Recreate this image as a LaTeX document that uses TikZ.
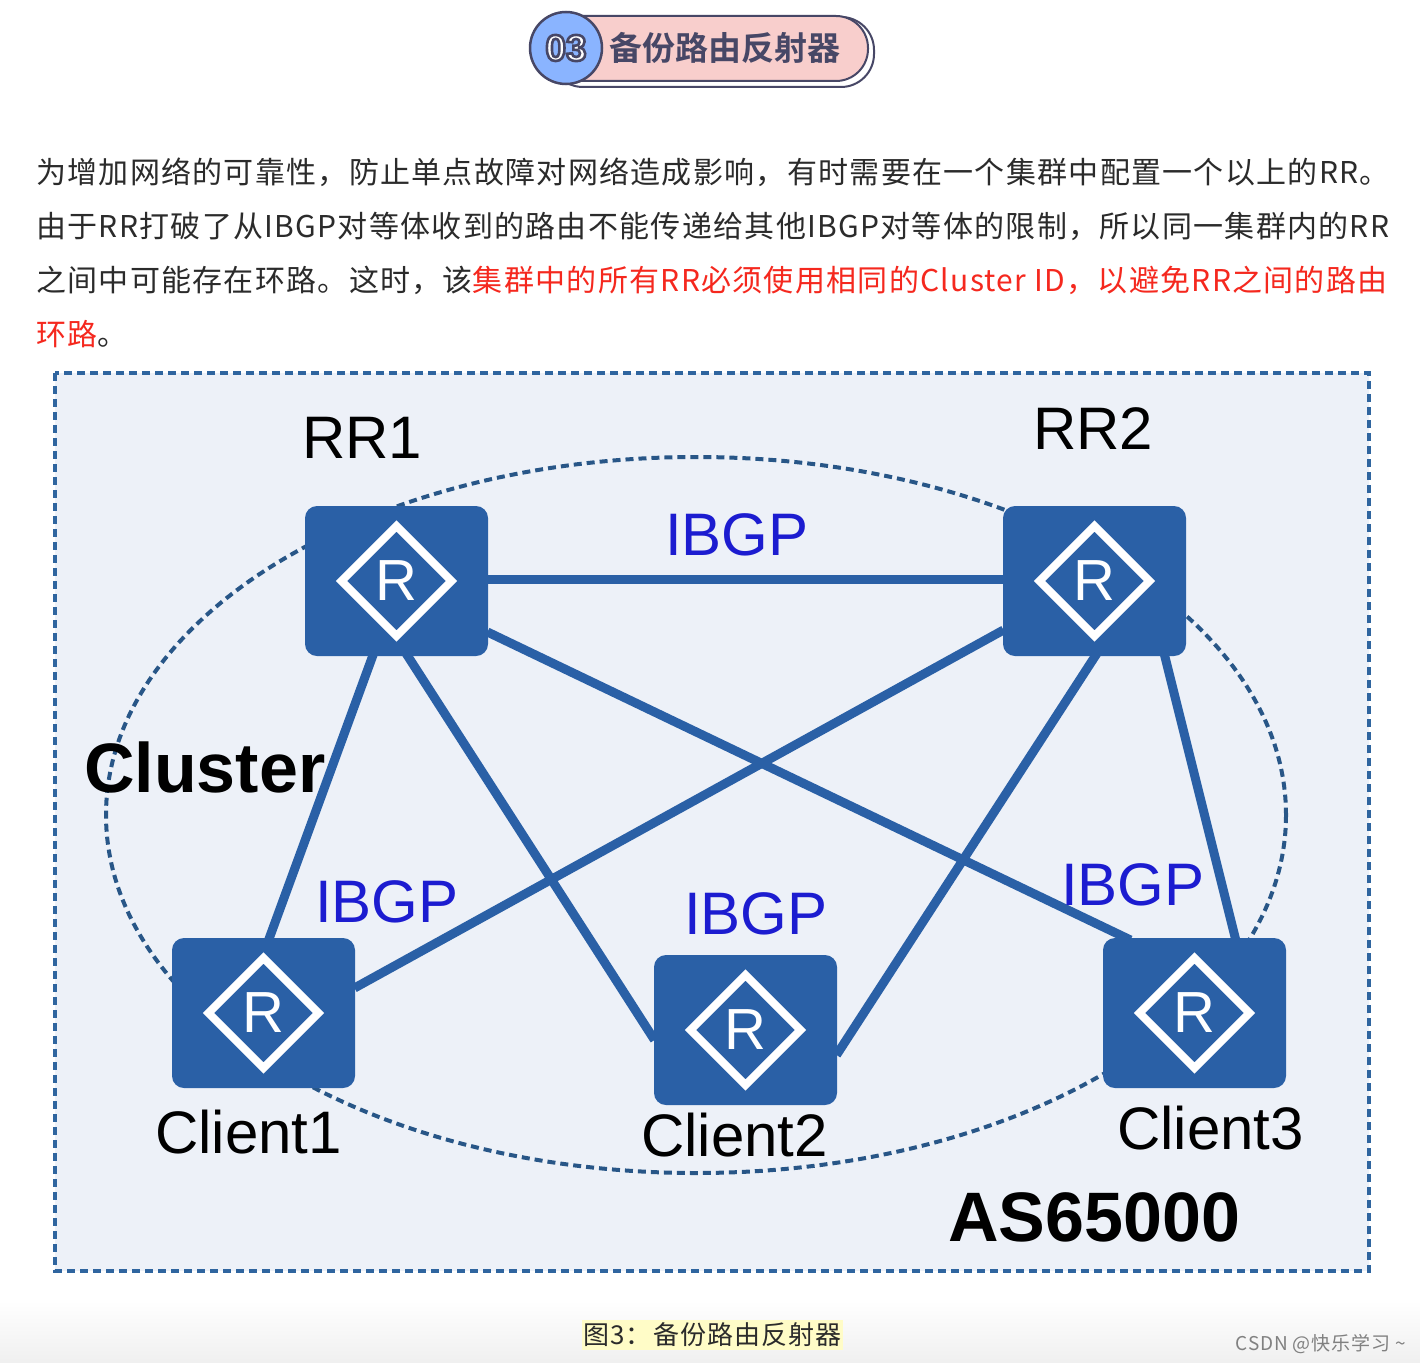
\documentclass[tikz,border=0pt]{standalone}
\usepackage{fontspec}
\setmainfont{Liberation Sans}
\newfontfamily\cjk[LetterSpace=4.3]{Noto Sans CJK SC}
\newfontfamily\cjkb[BoldFont={Noto Sans CJK SC Bold}]{Noto Sans CJK SC}
\usetikzlibrary{backgrounds}
\definecolor{panelfill}{HTML}{EDF1F8}
\definecolor{netblue}{HTML}{2A60A6}
\definecolor{dashblue}{HTML}{2F659F}
\definecolor{labelblue}{HTML}{1C1CD0}
\definecolor{inkdark}{HTML}{474766}
\definecolor{bodytext}{HTML}{2B2B2B}
\definecolor{redtext}{HTML}{F5281E}
\definecolor{badgepink}{HTML}{F8CECC}
\definecolor{badgeblue}{HTML}{8AB4FF}
\pgfdeclarelayer{bg}
\pgfsetlayers{bg,main}
\tikzset{
  x=1pt,y=-1pt,
  router/.style={rectangle,rounded corners=12pt,minimum width=183pt,minimum height=150pt,inner sep=0pt,
    fill=netblue,text=white,font=\fontsize{58}{58}\selectfont,
    path picture={\draw[white,line width=8pt,miter limit=10,sharp corners]
      ([shift={(-55,0)}]path picture bounding box.center)--
      ([shift={(0,-55)}]path picture bounding box.center)--
      ([shift={(55,0)}]path picture bounding box.center)--
      ([shift={(0,55)}]path picture bounding box.center)--cycle;}},
  link/.style={netblue,line width=9pt},
  bigtext/.style={font=\fontsize{60}{60}\selectfont,inner sep=0pt,anchor=base west},
  ibgp/.style={bigtext,text=labelblue},
  boldtext/.style={font=\fontsize{70}{70}\selectfont\bfseries,inner sep=0pt,anchor=base west},
  bodyline/.style={font=\cjk\fontsize{30}{30}\selectfont,text=bodytext,inner sep=0pt,anchor=base west},
}
\begin{document}
\begin{tikzpicture}
\useasboundingbox (0,0) rectangle (1420,1362);
\begin{pgfonlayer}{bg}
\fill[white] (0,0) rectangle (1420,1362);
\shade[top color=white,bottom color=black!6,shading angle=0] (0,1300) rectangle (1420,1362);
\draw[dashblue,fill=panelfill,line width=4pt,dash pattern=on 8pt off 5pt] (55,373) rectangle (1369,1271);
\draw[dashblue!85!black,line width=4pt,dash pattern=on 8pt off 5pt] (696,815) ellipse [x radius=590,y radius=358];
\draw[inkdark,fill=white,line width=2pt,rounded corners=33pt] (550,17) rectangle (874,87);
\end{pgfonlayer}
\draw[inkdark,fill=badgepink,line width=2pt,rounded corners=32pt] (540,16) rectangle (868,81);
\node[circle,draw=inkdark,fill=badgeblue,line width=2.5pt,minimum size=72pt,inner sep=0pt] (badge) at (566,48)
  {\fontsize{37}{37}\selectfont\bfseries\special{pdf:code q 2 Tr 2.6 w 0.28 0.28 0.40 RG 1 1 1 rg}03\special{pdf:code Q}};
\node[font=\cjkb\fontsize{33}{33}\selectfont\bfseries,text=inkdark,inner sep=0pt,anchor=base west] (title) at (609,61) {备份路由反射器};

\node[bodyline] (l1) at (36,183) {为增加网络的可靠性，防止单点故障对网络造成影响，有时需要在一个集群中配置一个以上的RR。};
\node[bodyline] (l2) at (36,237) {由于RR打破了从IBGP对等体收到的路由不能传递给其他IBGP对等体的限制，所以同一集群内的RR};
\node[bodyline] (l3) at (36,291) {之间中可能存在环路。这时，该\textcolor{redtext}{集群中的所有RR必须使用相同的Cluster ID，以避免RR之间的路由}};
\node[bodyline] (l4) at (36,345) {\textcolor{redtext}{环路}。};

\node[router] (rr1) at (396.5,581) {R};
\node[router] (rr2) at (1094.5,581) {R};
\node[router] (c1) at (263.5,1013) {R};
\node[router] (c2) at (745.5,1030) {R};
\node[router] (c3) at (1194.5,1013) {R};

\begin{pgfonlayer}{bg}
\draw[link] (rr1.east |- 0,579) -- (rr2.west |- 0,579);
\draw[link] ([shift={(-22,70)}]rr1.center) -- ([shift={(4,-70)}]c1.center);
\draw[link] ([shift={(8,70)}]rr1.center) -- ([shift={(-91,10)}]c2.center);
\draw[link] ([shift={(91,51)}]rr1.center) -- ([shift={(-64,-73)}]c3.center);
\draw[link] ([shift={(-91,49)}]rr2.center) -- ([shift={(91,-25)}]c1.center);
\draw[link] ([shift={(4,70)}]rr2.center) -- ([shift={(91,25)}]c2.center);
\draw[link] ([shift={(69,70)}]rr2.center) -- ([shift={(42,-70)}]c3.center);
\end{pgfonlayer}

\node[bigtext] (rr1t) at (302,458) {RR1};
\node[bigtext] (rr2t) at (1033,449) {RR2};
\node[bigtext] (c1t) at (155,1153) {Client1};
\node[bigtext] (c2t) at (641,1156) {Client2};
\node[bigtext] (c3t) at (1117,1149) {Client3};
\node[ibgp] (i1) at (665,555) {IBGP};
\node[ibgp] (i2) at (315,922) {IBGP};
\node[ibgp] (i3) at (684,934) {IBGP};
\node[ibgp] (i4) at (1061,905) {IBGP};
\node[boldtext] (cl) at (84,792) {Cluster};
\node[boldtext] (as) at (948,1241) {AS65000};

\node[fill=yellow!22!white,inner sep=0pt,minimum width=261pt,minimum height=30pt,font=\cjk\fontsize{26}{26}\selectfont,text=bodytext] (cap) at (712.5,1335) {图3：备份路由反射器};
\node[font=\cjk\fontsize{19}{19}\selectfont,text=black!50,inner sep=0pt,anchor=base east] (wm) at (1406,1350) {CSDN @快乐学习 {\char"7E}};
\end{tikzpicture}
\end{document}
